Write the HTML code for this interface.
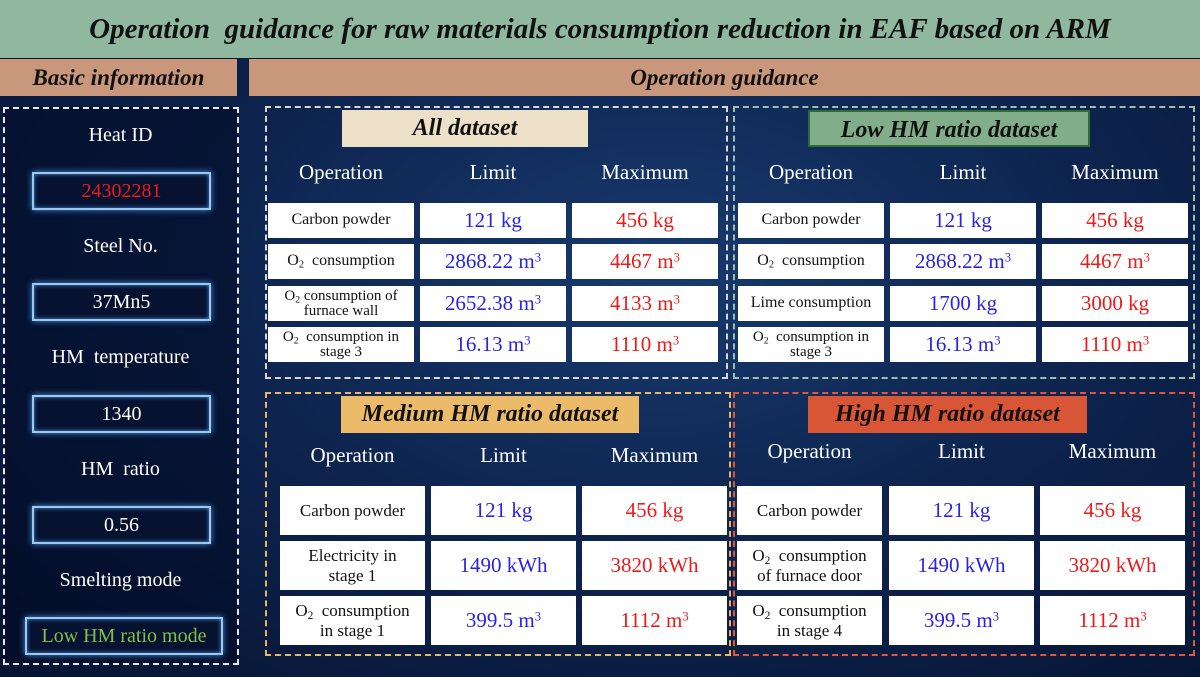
<!DOCTYPE html>
<html><head><meta charset="utf-8"><style>
*{margin:0;padding:0;box-sizing:border-box}
body{width:1200px;height:677px;overflow:hidden;font-family:"Liberation Serif",serif;background:#0a1733;position:relative}
.a{position:absolute}
#bg{left:0;top:96px;width:1200px;height:581px;background:radial-gradient(ellipse at 55% 30%,#173a6e 0%,#0e2550 45%,#061331 100%)}
.hdr{font-weight:bold;font-style:italic;color:#111;text-align:center}
.lbl{color:#fff;font-size:20px;text-align:center;width:235px;left:3px}
.vbox{left:32px;width:179px;height:38px;border:2px solid #9cc8ee;box-shadow:0 0 6px #4a90d9,inset 0 0 4px #4a90d9;background:#061230;color:#fff;font-size:20px;text-align:center;line-height:34px}
.panel{border:2px dashed}
.ptitle{font-weight:bold;font-style:italic;font-size:24px;color:#111;text-align:center}
.ch{color:#fff;font-size:21px;text-align:center;width:146px}
.cell{background:#fff;display:flex;align-items:center;justify-content:center;text-align:center;line-height:1.05;padding:0 6px}
.op{font-size:16px;color:#111}
.lim{font-size:21px;color:#2b22e6}
.max{font-size:21px;color:#ee1a1a}
sub{font-size:0.65em;vertical-align:-0.25em;line-height:0}
sup{font-size:0.6em;vertical-align:0.5em;line-height:0}
</style></head><body>
<div class="a" id="bg"></div>
<div class="a hdr" style="left:0;top:0;width:1200px;height:58px;background:#8fb89f;font-size:29px;line-height:58px">Operation&nbsp; guidance for raw materials consumption reduction in EAF based on ARM</div>
<div class="a hdr" style="left:0;top:59px;width:237px;height:37px;background:#c9977c;font-size:23px;line-height:37px">Basic information</div>
<div class="a" style="left:237px;top:59px;width:12px;height:37px;background:#0c2149"></div>
<div class="a hdr" style="left:249px;top:59px;width:951px;height:37px;background:#c9977c;font-size:23px;line-height:37px">Operation guidance</div>

<div class="a panel" style="left:3px;top:107px;width:236px;height:558px;border-color:#e8e8e8;background:rgba(2,10,35,0.55)"></div>
<div class="a lbl" style="top:124px">Heat ID</div>
<div class="a vbox" style="top:172px;color:#ee1a1a">24302281</div>
<div class="a lbl" style="top:235px">Steel No.</div>
<div class="a vbox" style="top:283px">37Mn5</div>
<div class="a lbl" style="top:346px">HM&nbsp; temperature</div>
<div class="a vbox" style="top:395px">1340</div>
<div class="a lbl" style="top:458px">HM&nbsp; ratio</div>
<div class="a vbox" style="top:506px">0.56</div>
<div class="a lbl" style="top:569px">Smelting mode</div>
<div class="a vbox" style="left:25px;width:198px;top:617px;color:#7fbf4a">Low HM ratio mode</div>

<div id="root"></div>
<script>
const panelNames=['all-dataset','low-hm-ratio-dataset','medium-hm-ratio-dataset','high-hm-ratio-dataset'];
const panelTitles=['All dataset','Low HM ratio dataset','Medium HM ratio dataset','High HM ratio dataset'];
const ops=[
 ['Carbon powder','O<sub>2</sub>&nbsp; consumption','O<sub>2</sub> consumption of furnace wall','O<sub>2</sub>&nbsp; consumption in stage 3'],
 ['Carbon powder','O<sub>2</sub>&nbsp; consumption','Lime consumption','O<sub>2</sub>&nbsp; consumption in stage 3'],
 ['Carbon powder','Electricity in stage 1','O<sub>2</sub>&nbsp; consumption in stage 1'],
 ['Carbon powder','O<sub>2</sub>&nbsp; consumption of furnace door','O<sub>2</sub>&nbsp; consumption in stage 4']];
const limits=[
 ['121 kg','2868.22 m<sup>3</sup>','2652.38 m<sup>3</sup>','16.13 m<sup>3</sup>'],
 ['121 kg','2868.22 m<sup>3</sup>','1700 kg','16.13 m<sup>3</sup>'],
 ['121 kg','1490 kWh','399.5 m<sup>3</sup>'],
 ['121 kg','1490 kWh','399.5 m<sup>3</sup>']];
const maxima=[
 ['456 kg','4467 m<sup>3</sup>','4133 m<sup>3</sup>','1110 m<sup>3</sup>'],
 ['456 kg','4467 m<sup>3</sup>','3000 kg','1110 m<sup>3</sup>'],
 ['456 kg','3820 kWh','1112 m<sup>3</sup>'],
 ['456 kg','3820 kWh','1112 m<sup>3</sup>']];
const geo=[
 {x:265,y:106,w:463,h:273,bc:'#d8d8d0',tx:342,tw:246,tbg:'#ede0c9',tb:'none',hy:160,cols:[268,420,572],cw:146,rows:[203,244,286,327],rh:35,fs:16},
 {x:733,y:106,w:462,h:273,bc:'#9fbfae',tx:808,tw:282,tbg:'#82ad8a',tb:'2px solid #2e6b35',hy:160,cols:[738,890,1042],cw:146,rows:[203,244,286,327],rh:35,fs:16},
 {x:265,y:392,w:466,h:264,bc:'#e5b566',tx:341,tw:298,tbg:'#ebbb6a',tb:'none',hy:443,cols:[280,431,582],cw:145,rows:[486,541,596],rh:49,fs:17},
 {x:733,y:392,w:462,h:264,bc:'#e0553c',tx:808,tw:279,tbg:'#d85536',tb:'none',hy:439,cols:[737,889,1040],cw:145,rows:[486,541,596],rh:49,fs:17}];
const heads=['Operation','Limit','Maximum'];
const root=document.getElementById('root');
function mk(cls,css,html){const d=document.createElement('div');d.className='a '+cls;d.style.cssText=css;d.innerHTML=html;root.appendChild(d);return d;}
panelNames.forEach((pn,p)=>{
 const g=geo[p];
 const box=mk('panel',`left:${g.x}px;top:${g.y}px;width:${g.w}px;height:${g.h}px;border-color:${g.bc}`,'');
 
 
 const t=mk('ptitle',`left:${g.tx}px;top:${g.y+4}px;width:${g.tw}px;height:37px;line-height:37px;background:${g.tbg};border:${g.tb}`,panelTitles[p]);
 
 
 heads.forEach((h,c)=>{
  const e=mk('ch',`left:${g.cols[c]}px;top:${g.hy}px;width:${g.cw}px`,h);
  
  
 });
 ops[p].forEach((o,r)=>{
  const vals=[o,limits[p][r],maxima[p][r]];
  const cls=['op','lim','max'];
  vals.forEach((v,c)=>{
   let fs='';
   if(c===0){fs='font-size:'+g.fs+'px;';if(p<2&&r>=2&&o.length>30)fs='font-size:15px;line-height:0.95;';if(p>=2)fs+='line-height:1.15;padding:0 14px;';}
   const e=mk('cell '+cls[c],`left:${g.cols[c]}px;top:${g.rows[r]}px;width:${g.cw}px;height:${g.rh}px;${fs}`,'<span>'+v+'</span>');
   
   
  });
 });
});
</script>
</body></html>
